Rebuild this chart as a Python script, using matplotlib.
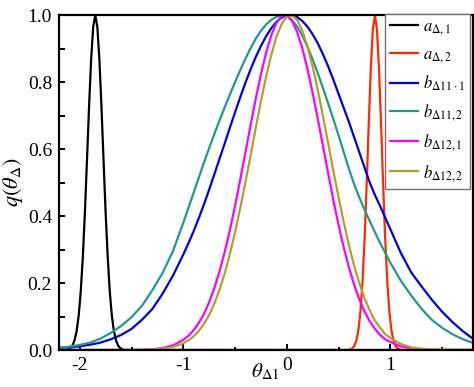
import matplotlib
matplotlib.use('Agg')
import matplotlib.pyplot as plt
from matplotlib.ticker import FixedLocator

# theta grid shared by the wide curves (finer in the middle)
theta = [-2.2, -2.1, -2.0, -1.9, -1.8, -1.7, -1.6, -1.5, -1.4, -1.3, -1.2, -1.1,
         -1.0, -0.95, -0.9, -0.85, -0.8, -0.75, -0.7, -0.65, -0.6, -0.55,
         -0.5, -0.45, -0.4, -0.35, -0.3, -0.25, -0.2, -0.15, -0.1, -0.05,
         0.0, 0.05, 0.1, 0.15, 0.2, 0.25, 0.3, 0.35, 0.4, 0.45,
         0.5, 0.55, 0.6, 0.65, 0.7, 0.75, 0.8, 0.85, 0.9, 0.95,
         1.0, 1.1, 1.2, 1.3, 1.4, 1.5, 1.6, 1.7, 1.8]

b11_1 = [0.006, 0.008, 0.011, 0.016, 0.022, 0.032, 0.045, 0.063, 0.09, 0.122, 0.168, 0.222,
         0.285, 0.319, 0.355, 0.394, 0.435, 0.479, 0.525, 0.571, 0.617, 0.664,
         0.71, 0.755, 0.798, 0.838, 0.875, 0.908, 0.937, 0.961, 0.98, 0.993,
         0.999, 0.999, 0.994, 0.982, 0.965, 0.942, 0.915, 0.882, 0.846, 0.806,
         0.764, 0.722, 0.68, 0.635, 0.59, 0.545, 0.5, 0.463, 0.43, 0.395,
         0.36, 0.29, 0.232, 0.19, 0.15, 0.114, 0.083, 0.056, 0.033]
b11_2 = [0.007, 0.01, 0.015, 0.022, 0.034, 0.051, 0.072, 0.098, 0.132, 0.178, 0.23, 0.295,
         0.38, 0.425, 0.47, 0.515, 0.56, 0.603, 0.645, 0.686, 0.725, 0.763,
         0.8, 0.836, 0.87, 0.901, 0.93, 0.953, 0.972, 0.986, 0.995, 0.999,
         0.997, 0.985, 0.965, 0.938, 0.905, 0.867, 0.825, 0.781, 0.735, 0.688,
         0.64, 0.59, 0.54, 0.495, 0.455, 0.419, 0.385, 0.352, 0.32, 0.29,
         0.26, 0.207, 0.163, 0.123, 0.09, 0.066, 0.047, 0.032, 0.021]
b12_1 = [0, 0, 0, 0, 0, 0, 0, 0, 0, 0.002, 0.006, 0.014,
         0.03, 0.0425, 0.059, 0.081, 0.108, 0.143, 0.185, 0.235, 0.293, 0.358,
         0.431, 0.509, 0.59, 0.672, 0.751, 0.824, 0.888, 0.94, 0.977, 0.997,
         0.999, 0.982, 0.949, 0.9, 0.838, 0.766, 0.688, 0.607, 0.525, 0.446,
         0.372, 0.305, 0.246, 0.194, 0.151, 0.115, 0.086, 0.063, 0.045, 0.032,
         0.024, 0.011, 0.005, 0.002, 0, 0, 0, 0, 0]
b12_2 = [0, 0, 0, 0, 0, 0, 0, 0, 0.001, 0.002, 0.004, 0.009,
         0.02, 0.029, 0.041, 0.057, 0.078, 0.105, 0.139, 0.18, 0.229, 0.287,
         0.352, 0.424, 0.501, 0.582, 0.664, 0.743, 0.817, 0.882, 0.936, 0.974,
         0.996, 0.999, 0.985, 0.953, 0.905, 0.845, 0.774, 0.696, 0.615, 0.533,
         0.454, 0.38, 0.312, 0.251, 0.199, 0.155, 0.118, 0.088, 0.067, 0.047,
         0.036, 0.018, 0.008, 0.004, 0.002, 0.001, 0, 0, 0]

# narrow peaks
a1_x = [-2.2, -2.13, -2.11, -2.09, -2.07, -2.05, -2.03, -2.01, -1.99, -1.97,
        -1.95, -1.93, -1.91, -1.89, -1.87, -1.85, -1.83, -1.81, -1.79, -1.77,
        -1.75, -1.73, -1.71, -1.69, -1.67, -1.65, -1.63, -1.61, -1.59, -1.57, 1.8]
a1 = [0, 0, 0.0025, 0.006, 0.0135, 0.029, 0.056, 0.103, 0.175, 0.278,
      0.411, 0.566, 0.726, 0.867, 0.965, 1.0, 0.965, 0.867, 0.726, 0.566,
      0.411, 0.278, 0.175, 0.103, 0.056, 0.029, 0.0135, 0.006, 0.0025, 0, 0]
a2_x = [-2.2, 0.57, 0.59, 0.61, 0.63, 0.65, 0.67, 0.69, 0.71, 0.73,
        0.75, 0.77, 0.79, 0.81, 0.83, 0.85, 0.87, 0.89, 0.91, 0.93,
        0.95, 0.97, 0.99, 1.01, 1.03, 1.05, 1.07, 1.09, 1.11, 1.13, 1.8]
a2 = [0, 0, 0.0005, 0.0016, 0.0046, 0.0116, 0.027, 0.058, 0.113, 0.201,
      0.328, 0.49, 0.67, 0.837, 0.956, 1.0, 0.956, 0.837, 0.67, 0.49,
      0.328, 0.201, 0.113, 0.058, 0.027, 0.0116, 0.0046, 0.0016, 0.0005, 0, 0]

labels = [r'$a_{\Delta,1}$', r'$a_{\Delta,2}$', r'$b_{\Delta 11\cdot 1}$',
          r'$b_{\Delta 11,2}$', r'$b_{\Delta 12,1}$', r'$b_{\Delta 12,2}$']
colors = ['black', '#ff2a00', '#0000e0', '#1f9a8c', '#ff00ff', '#b0a02c']

xticks = [-2, -1, 0, 1]
xtick_labels = ['-2', '-1', '0', '1']
yticks = [0, 0.2, 0.4, 0.6, 0.8, 1.0]
ytick_labels = ['0.0', '0.2', '0.4', '0.6', '0.8', '1.0']

plt.rcParams['font.family'] = ['Liberation Serif', 'DejaVu Serif']
plt.rcParams['mathtext.fontset'] = 'stix'
plt.rcParams['axes.unicode_minus'] = False

fig = plt.figure(figsize=(4.74, 3.87), dpi=100)
ax = fig.add_axes([0.1245, 0.0956, 0.874, 0.8654])

series = [(a1_x, a1), (a2_x, a2), (theta, b11_1), (theta, b11_2),
          (theta, b12_1), (theta, b12_2)]
for (xs, ys), lab, c in zip(series, labels, colors):
    ax.plot(xs, ys, color=c, lw=1.6, label=lab)

ax.set_xlim(-2.2, 1.8)
ax.set_ylim(0, 1.0)
ax.xaxis.set_major_locator(FixedLocator(xticks))
ax.xaxis.set_minor_locator(FixedLocator([-1.5, -0.5, 0.5, 1.5]))
ax.yaxis.set_major_locator(FixedLocator(yticks))
ax.yaxis.set_minor_locator(FixedLocator([0.1, 0.3, 0.5, 0.7, 0.9]))
ax.set_xticklabels(xtick_labels)
ax.set_yticklabels(ytick_labels)
ax.tick_params(which='both', direction='in', labelsize=14, width=1.4)
ax.tick_params(axis='y', which='both', length=4.5, pad=5)
ax.tick_params(axis='x', which='major', length=4.5, pad=5)
ax.tick_params(axis='x', which='minor', length=2)
for s in ax.spines.values():
    s.set_linewidth(1.6)

ax.set_ylabel(r'$q(\theta_{\Delta})$', fontsize=16, labelpad=2)
fig.text(265 / 474, 1 - 372 / 387, r'$\theta_{\Delta 1}$', fontsize=15,
         ha='center', va='center')

ax.legend(loc='upper right', bbox_to_anchor=(0.992, 1.003), borderaxespad=0,
          fontsize=12, fancybox=False, edgecolor='0.45', framealpha=1,
          handlelength=1.7, handletextpad=0.3, labelspacing=0.55, borderpad=0.3)

fig.savefig('out.png', dpi=100)
